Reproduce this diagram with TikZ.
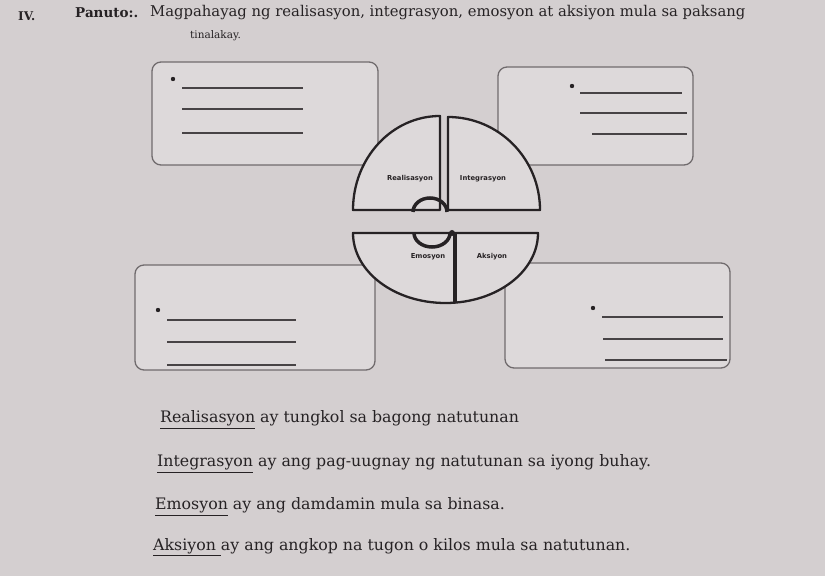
\documentclass[tikz,border=0pt]{standalone}
\usepackage{fontspec}
\setmainfont{DejaVu Serif}
\setsansfont{DejaVu Sans}
\usepackage{xcolor}
\definecolor{paper}{RGB}{212,207,208}
\definecolor{cardfill}{RGB}{221,217,218}
\definecolor{ink}{RGB}{38,34,36}
\definecolor{rim}{RGB}{112,107,109}
\begin{document}
\begin{tikzpicture}[x=1pt,y=1pt,
    card/.style={draw=rim,line width=1.3pt,fill=cardfill,rounded corners=9pt},
    blank/.style={draw=ink!85,line width=1.4pt},
    piece/.style={draw=ink,line width=2.3pt,fill=cardfill,line join=round},
    tag/.style={font=\sffamily\bfseries\fontsize{6.8}{8}\selectfont,text=ink},
    head/.style={anchor=base west,inner sep=0pt,text=ink,font=\fontsize{14.8}{17}\selectfont},
    row/.style={anchor=base west,inner sep=0pt,text=ink,font=\fontsize{15.8}{19}\selectfont}]
    \fill[paper] (0,0) rectangle (825,576);
    % heading
    \node[anchor=base west,inner sep=0pt,text=ink,font=\bfseries\fontsize{12}{14}\selectfont] (num) at (18,555) {IV.};
    \node[anchor=base west,inner sep=0pt,text=ink,font=\bfseries\fontsize{13.5}{16}\selectfont] (panuto) at (75,558) {Panuto:.};
    \node[head] (task) at (150,559) {Magpahayag ng realisasyon, integrasyon, emosyon at aksiyon mula sa paksang};
    \node[anchor=base west,inner sep=0pt,text=ink,font=\fontsize{10.5}{12}\selectfont] (task2) at (190,537) {tinalakay.};
    % four answer cards
    \draw[card] (152,411) rectangle (378,514);
    \draw[card] (498,411) rectangle (693,509);
    \draw[card] (135,206) rectangle (375,311);
    \draw[card] (505,208) rectangle (730,313);
    \fill[ink] (173,497) circle (2.2pt);
    \fill[ink] (572,490) circle (2.2pt);
    \fill[ink] (158,266) circle (2.2pt);
    \fill[ink] (593,268) circle (2.2pt);
    \foreach \y in {488,467,443} \draw[blank] (182,\y) -- (303,\y);
    \draw[blank] (580,483) -- (682,483);
    \draw[blank] (580,463) -- (687,463);
    \draw[blank] (592,442) -- (687,442);
    \foreach \y in {256,234,211} \draw[blank] (167,\y) -- (296,\y);
    \draw[blank] (602,259) -- (723,259);
    \draw[blank] (603,237) -- (723,237);
    \draw[blank] (605,216) -- (727,216);
    % the split circle
    \coordinate (R) at (440,366);
    \coordinate (I) at (448,366);
    \coordinate (E) at (445.5,343);
    \draw[piece] (R) -- ++(-87,0) arc[start angle=180,end angle=90,x radius=87,y radius=94] -- cycle;
    \draw[piece] (I) -- ++(0,93) arc[start angle=90,end angle=0,x radius=92,y radius=93] -- cycle;
    \draw[piece] ([xshift=-92.5pt]E) -- ([xshift=92.5pt]E) arc[start angle=0,end angle=-180,x radius=92.5,y radius=70] -- cycle;
    \draw[ink,line width=4.5pt] (455,343) -- (455,274);
    \draw[ink,line width=3.5pt] (413,364) arc[start angle=180,end angle=0,x radius=17,y radius=14];
    \draw[ink,line width=3.5pt] (414,343) arc[start angle=180,end angle=360,x radius=18,y radius=14];
    \fill[ink] (452,343) circle (3pt);
    \node[tag] (real) at (410,397) {Realisasyon};
    \node[tag] (integ) at (483,397) {Integrasyon};
    \node[tag] (emo) at (428,319) {Emosyon};
    \node[tag] (aks) at (492,319) {Aksiyon};
    % definitions
    \node[row] (d1) at (160,153) {\underline{Realisasyon} ay tungkol sa bagong natutunan};
    \node[row] (d2) at (157,109) {\underline{Integrasyon} ay ang pag-uugnay ng natutunan sa iyong buhay.};
    \node[row] (d3) at (155,66) {\underline{Emosyon} ay ang damdamin mula sa binasa.};
    \node[row] (d4) at (153,26) {\underline{Aksiyon\ }ay ang angkop na tugon o kilos mula sa natutunan.};
\end{tikzpicture}
\end{document}
